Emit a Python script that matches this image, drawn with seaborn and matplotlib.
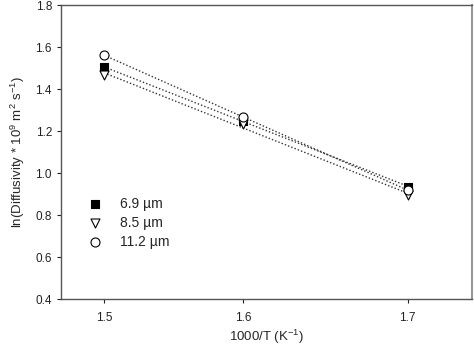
import numpy as np
import pandas as pd
import matplotlib
matplotlib.use("Agg")
import matplotlib.pyplot as plt
import seaborn as sns

# Data
x_vals = [1.508, 1.600, 1.709]          # 1000/T for 663 K, 625 K, 585 K
y_69 = [1.503, 1.250, 0.935]
y_85 = [1.467, 1.233, 0.895]
y_112 = [1.562, 1.265, 0.919]
series_labels = ["6.9 \u00b5m", "8.5 \u00b5m", "11.2 \u00b5m"]
xtick_labels = ["1.5", "1.6", "1.7"]
yticks = [0.4, 0.6, 0.8, 1.0, 1.2, 1.4, 1.6, 1.8]

sns.set_style("ticks")
plt.rcParams['font.family'] = ['Liberation Sans', 'DejaVu Sans']
plt.rcParams['mathtext.fontset'] = 'custom'
plt.rcParams['mathtext.rm'] = 'Liberation Sans'
plt.rcParams['mathtext.it'] = 'Liberation Sans'

fig = plt.figure(figsize=(4.74, 3.48), dpi=100)
ax = fig.add_axes([0.1287, 0.1408, 0.867, 0.8448])

styles = [
    dict(marker="s", facecolor="black", edgecolor="black", size=36),
    dict(marker="v", facecolor="white", edgecolor="black", size=42),
    dict(marker="o", facecolor="white", edgecolor="black", size=42),
]
ys = [y_69, y_85, y_112]

for yv, lab, st in zip(ys, series_labels, styles):
    df = pd.DataFrame({"x": x_vals, "y": yv})
    sns.regplot(data=df, x="x", y="y", ci=None, scatter=False, ax=ax,
                line_kws=dict(color="#333333", linestyle=(0, (1, 1.5)), linewidth=1.0))
for yv, lab, st in zip(ys, series_labels, styles):
    df = pd.DataFrame({"x": x_vals, "y": yv})
    sns.scatterplot(data=df, x="x", y="y", ax=ax, marker=st["marker"],
                    s=st["size"], color=st["facecolor"], edgecolor=st["edgecolor"],
                    linewidth=0.8, label=lab, zorder=5)

ax.set_xlim(1.4795, 1.7515)
ax.set_ylim(0.4, 1.8)
ax.set_xticks(x_vals)
ax.set_xticklabels(xtick_labels)
ax.set_yticks(yticks)
ax.set_yticklabels([f"{v:.1f}" for v in yticks])
ax.tick_params(axis="both", labelsize=8.5, length=3, width=0.8, direction="out",
               colors="#222222")
ax.tick_params(axis="x", pad=6)
for s in ax.spines.values():
    s.set_visible(True)
    s.set_color("#555555")
    s.set_linewidth(1.0)
ax.spines["right"].set_color("#999999")
ax.spines["right"].set_linewidth(1.5)

ax.set_xlabel("1000/T (K$^{-1}$)", fontsize=9.5, labelpad=3)
ax.set_ylabel("ln(Diffusivity * 10$^{9}$ m$^{2}$ s$^{-1}$)", fontsize=9.5, labelpad=6)

leg = ax.legend(loc="upper left", bbox_to_anchor=(0.036, 0.366), frameon=False,
                fontsize=10, handletextpad=0.75, labelspacing=0.35, borderaxespad=0)

fig.savefig("out.png", dpi=100)
